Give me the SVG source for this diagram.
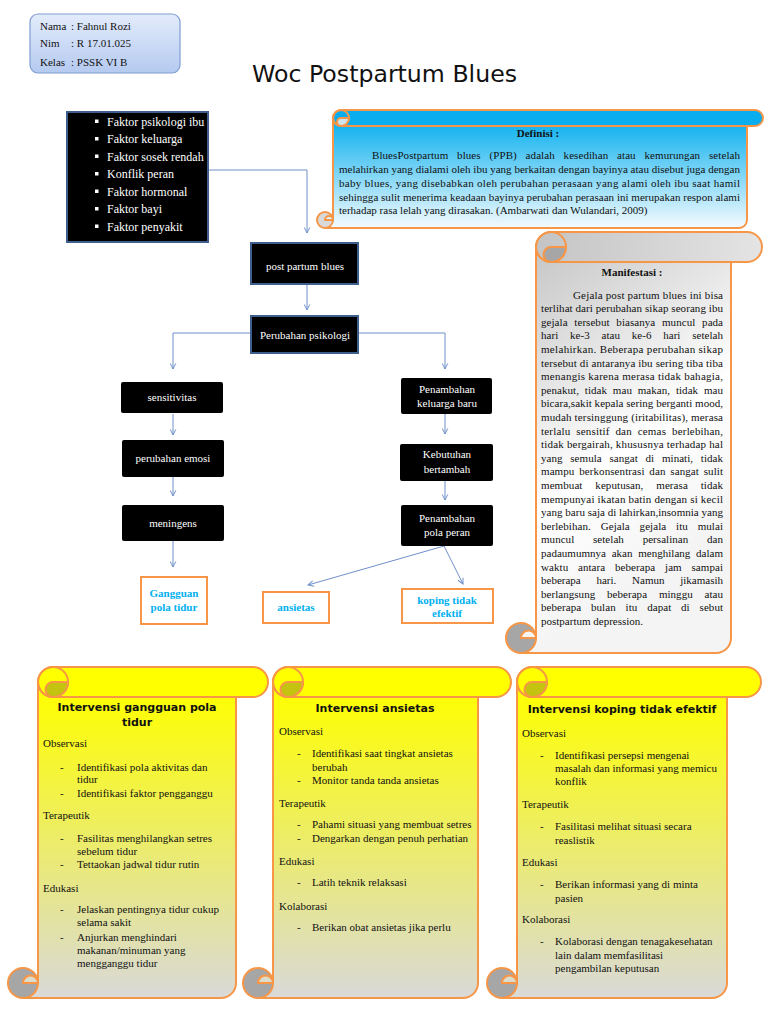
<svg xmlns="http://www.w3.org/2000/svg" width="768" height="1024" viewBox="0 0 768 1024">
<defs>
<linearGradient id="gName" x1="0" y1="0" x2="0" y2="1"><stop offset="0" stop-color="#e3ecfb"/><stop offset="1" stop-color="#b5caf0"/></linearGradient>
<linearGradient id="gDef" gradientUnits="userSpaceOnUse" x1="0" y1="118" x2="0" y2="228"><stop offset="0" stop-color="#05aeee"/><stop offset="1" stop-color="#f4fbfe"/></linearGradient>
<linearGradient id="gMan" gradientUnits="userSpaceOnUse" x1="536" y1="247" x2="731" y2="520"><stop offset="0" stop-color="#c6c6c6"/><stop offset="0.65" stop-color="#ffffff"/><stop offset="1" stop-color="#f4f4f4"/></linearGradient>
<linearGradient id="gManBand" x1="0" y1="0" x2="1" y2="0"><stop offset="0" stop-color="#c4c4c4"/><stop offset="1" stop-color="#e4e4e4"/></linearGradient>
<linearGradient id="gYel" gradientUnits="userSpaceOnUse" x1="0" y1="682" x2="0" y2="998"><stop offset="0" stop-color="#ffff00"/><stop offset="0.12" stop-color="#fbfb14"/><stop offset="1" stop-color="#d9d9d9"/></linearGradient>
<marker id="ah" viewBox="0 0 10 10" refX="9" refY="5" markerWidth="7" markerHeight="7" markerUnits="userSpaceOnUse" orient="auto"><path d="M1,1 L9,5 L1,9" fill="none" stroke="#6f8fc8" stroke-width="1.4"/></marker>
<style>
.sc{stroke:#f79646;stroke-width:2}
.curl{fill:#a6a6a6}
.t{font-family:"Liberation Serif","Times New Roman",serif;font-size:11px;fill:#111}
.f12{font-size:12px}
.tw{fill:#fff}
.bold{font-weight:bold}
.blue{fill:#00b0f0;font-weight:bold}
.c{text-anchor:middle}
.h{font-family:"DejaVu Sans",Verdana,sans-serif;font-size:11px;font-weight:bold;fill:#111;text-anchor:middle}
.node{fill:#000}
.nb{stroke:#3e5f8e;stroke-width:2}
.ob{fill:#fff;stroke:#f79646;stroke-width:2}
.cn{fill:none;stroke:#6f8fc8;stroke-width:1;marker-end:url(#ah)}
</style>
</defs>
<rect width="768" height="1024" fill="#fff"/>

<g id="identity">
<rect x="30" y="14" width="150" height="59" rx="8" fill="url(#gName)" stroke="#7f9dd2" stroke-width="1.2"/>
<text class="t" x="40" y="30">Nama<tspan x="71">: Fahnul Rozi</tspan></text>
<text class="t" x="40" y="47">Nim<tspan x="71">: R 17.01.025</tspan></text>
<text class="t" x="40" y="66">Kelas<tspan x="71">: PSSK  VI B</tspan></text>
</g>

<text id="title" x="252" y="82" font-family="DejaVu Sans, Verdana, sans-serif" font-size="23" fill="#111" textLength="265" lengthAdjust="spacingAndGlyphs">Woc Postpartum Blues</text>

<g id="connectors">
<path class="cn" d="M208,170 H307 V233"/>
<path class="cn" d="M307,284 V310"/>
<path class="cn" d="M251,333 H173 V369"/>
<path class="cn" d="M358,333 H445 V369"/>
<path class="cn" d="M173,414 V435"/>
<path class="cn" d="M173,477 V496"/>
<path class="cn" d="M173,541 V567"/>
<path class="cn" d="M445,414 V434"/>
<path class="cn" d="M445,481 V500"/>
<path class="cn" d="M444,546 L308,585"/>
<path class="cn" d="M444,546 L463,584"/>
</g>

<g id="faktor">
<rect class="node nb" x="67" y="112" width="141" height="130"/>
<g fill="#fff">
<rect x="95" y="119.5" width="3.5" height="3.5"/>
<rect x="95" y="137" width="3.5" height="3.5"/>
<rect x="95" y="154.5" width="3.5" height="3.5"/>
<rect x="95" y="172" width="3.5" height="3.5"/>
<rect x="95" y="189.5" width="3.5" height="3.5"/>
<rect x="95" y="207" width="3.5" height="3.5"/>
<rect x="95" y="224.5" width="3.5" height="3.5"/>
</g>
<text class="t tw f12" x="107" y="125.5">Faktor psikologi ibu</text>
<text class="t tw f12" x="107" y="143">Faktor keluarga</text>
<text class="t tw f12" x="107" y="160.5">Faktor sosek rendah</text>
<text class="t tw f12" x="107" y="178">Konflik peran</text>
<text class="t tw f12" x="107" y="195.5">Faktor hormonal</text>
<text class="t tw f12" x="107" y="213">Faktor bayi</text>
<text class="t tw f12" x="107" y="230.5">Faktor penyakit</text>
</g>

<g id="postpartum">
<rect class="node nb" x="251" y="243" width="107" height="41"/>
<text class="t tw c" x="305" y="270">post  partum blues</text>
</g>
<g id="perubahan-psikologi">
<rect class="node nb" x="251" y="316" width="107" height="37"/>
<text class="t tw c" x="305" y="339">Perubahan psikologi</text>
</g>
<g id="sensitivitas">
<rect class="node" x="121" y="382" width="102" height="31" rx="2"/>
<text class="t tw c" x="172" y="401">sensitivitas</text>
</g>
<g id="perubahan-emosi">
<rect class="node" x="122" y="440" width="102" height="37" rx="2"/>
<text class="t tw c" x="173" y="462">perubahan emosi</text>
</g>
<g id="meningens">
<rect class="node" x="122" y="505" width="102" height="36" rx="2"/>
<text class="t tw c" x="173" y="526.5">meningens</text>
</g>
<g id="penambahan-keluarga">
<rect class="node" x="401" y="378" width="91" height="36" rx="2"/>
<text class="t tw c" x="447" y="393">Penambahan</text>
<text class="t tw c" x="447" y="407">keluarga baru</text>
</g>
<g id="kebutuhan">
<rect class="node" x="400" y="444" width="93" height="37" rx="2"/>
<text class="t tw c" x="447" y="458">Kebutuhan</text>
<text class="t tw c" x="447" y="473">bertambah</text>
</g>
<g id="penambahan-peran">
<rect class="node" x="401" y="505" width="92" height="41" rx="2"/>
<text class="t tw c" x="447" y="522">Penambahan</text>
<text class="t tw c" x="447" y="535.5">pola peran</text>
</g>
<g id="gangguan">
<rect class="ob" x="141" y="577" width="66" height="47"/>
<text class="t blue c" x="174" y="597">Gangguan</text>
<text class="t blue c" x="174" y="610.5">pola tidur</text>
</g>
<g id="ansietas">
<rect class="ob" x="263" y="592" width="66" height="31"/>
<text class="t blue c" x="296" y="610.5">ansietas</text>
</g>
<g id="koping">
<rect class="ob" x="402" y="589" width="91" height="34"/>
<text class="t blue c" x="447" y="604">koping tidak</text>
<text class="t blue c" x="447" y="616.5">efektif</text>
</g>

<g id="definisi">
<path class="sc" fill="url(#gDef)" d="M333,118 H747 V220 A8 8 0 0 1 739,228 H325 V220 H333 Z"/>
<circle class="sc" cx="325" cy="220" r="8" fill="#d9d9d9"/>
<path class="sc" fill="url(#gDef)" d="M333,220 A4 4 0 0 0 325,220 Z"/>
<rect class="sc" x="333" y="110" width="430" height="16" rx="8" fill="#0aaeee"/>
<circle class="sc" cx="341" cy="118" r="8" fill="none"/>
<path class="sc" fill="#cfe3ec" d="M349,118 A8 8 0 0 1 341,126 A4 4 0 0 1 341,118 Z"/>
<text class="t bold c" x="538" y="137">Definisi :</text>
<text class="t" x="372" y="158.5" word-spacing="6" textLength="368" lengthAdjust="spacing">BluesPostpartum blues (PPB) adalah kesedihan atau kemurungan setelah</text>
<text class="t" x="339" y="172.5" textLength="401" lengthAdjust="spacing">melahirkan yang dialami oleh ibu yang berkaitan dengan bayinya atau disebut juga dengan</text>
<text class="t" x="339" y="186.5" textLength="401" lengthAdjust="spacing">baby blues, yang disebabkan oleh perubahan perasaan yang alami oleh ibu saat hamil</text>
<text class="t" x="339" y="200.5" textLength="401" lengthAdjust="spacing">sehingga sulit menerima keadaan bayinya perubahan perasaan ini merupakan respon alami</text>
<text class="t" x="339" y="214">terhadap rasa lelah yang dirasakan. (Ambarwati dan Wulandari, 2009)</text>
</g>

<g id="manifestasi">
<path class="sc" fill="url(#gMan)" d="M536,247 H731 V638 A15 15 0 0 1 716,653 H521 V638 H536 Z"/>
<circle class="sc curl" cx="521" cy="638" r="15"/>
<path class="sc" fill="url(#gMan)" d="M536,638 A7.5 7.5 0 0 0 521,638 Z"/>
<rect class="sc" x="536" y="232" width="226" height="30" rx="15" fill="url(#gManBand)"/>
<circle class="sc" cx="551" cy="247" r="15" fill="none"/>
<path class="sc curl" d="M566,247 A15 15 0 0 1 551,262 A7.5 7.5 0 0 1 551,247 Z"/>
<text class="t bold c" x="632" y="275.5">Manifestasi :</text>
<text class="t" x="573" y="298.5" textLength="150" lengthAdjust="spacing">Gejala post partum blues ini bisa</text>
<text class="t" x="541" y="312.1" textLength="182" lengthAdjust="spacing">terlihat dari perubahan sikap seorang ibu</text>
<text class="t" x="541" y="325.7" word-spacing="4" textLength="182" lengthAdjust="spacing">gejala tersebut biasanya muncul pada</text>
<text class="t" x="541" y="339.3" word-spacing="9" textLength="182" lengthAdjust="spacing">hari ke-3 atau ke-6 hari setelah</text>
<text class="t" x="541" y="352.9" textLength="182" lengthAdjust="spacing">melahirkan. Beberapa perubahan sikap</text>
<text class="t" x="541" y="366.5" textLength="182" lengthAdjust="spacing">tersebut di antaranya ibu sering tiba tiba</text>
<text class="t" x="541" y="380.1" textLength="182" lengthAdjust="spacing">menangis karena merasa tidak bahagia,</text>
<text class="t" x="541" y="393.7" word-spacing="3" textLength="182" lengthAdjust="spacing">penakut,  tidak mau makan, tidak mau</text>
<text class="t" x="541" y="407.3" textLength="182" lengthAdjust="spacing">bicara,sakit kepala sering berganti mood,</text>
<text class="t" x="541" y="420.9" textLength="182" lengthAdjust="spacing">mudah tersinggung (iritabilitas), merasa</text>
<text class="t" x="541" y="434.5" word-spacing="3" textLength="182" lengthAdjust="spacing">terlalu sensitif dan cemas berlebihan,</text>
<text class="t" x="541" y="448.1" textLength="182" lengthAdjust="spacing">tidak bergairah, khususnya terhadap hal</text>
<text class="t" x="541" y="461.7" word-spacing="5" textLength="182" lengthAdjust="spacing">yang semula sangat di minati, tidak</text>
<text class="t" x="541" y="475.3" word-spacing="2" textLength="182" lengthAdjust="spacing">mampu berkonsentrasi dan sangat sulit</text>
<text class="t" x="541" y="488.9" word-spacing="10" textLength="182" lengthAdjust="spacing">membuat keputusan, merasa tidak</text>
<text class="t" x="541" y="502.5" textLength="182" lengthAdjust="spacing">mempunyai ikatan batin dengan si kecil</text>
<text class="t" x="541" y="516.1" textLength="182" lengthAdjust="spacing">yang baru saja di lahirkan,insomnia yang</text>
<text class="t" x="541" y="529.7" word-spacing="7" textLength="182" lengthAdjust="spacing">berlebihan. Gejala gejala itu mulai</text>
<text class="t" x="541" y="543.3" word-spacing="16" textLength="182" lengthAdjust="spacing">muncul setelah persalinan dan</text>
<text class="t" x="541" y="556.9" word-spacing="3" textLength="182" lengthAdjust="spacing">padaumumnya akan menghilang dalam</text>
<text class="t" x="541" y="570.5" word-spacing="7" textLength="182" lengthAdjust="spacing">waktu antara beberapa jam sampai</text>
<text class="t" x="541" y="584.1" word-spacing="13" textLength="182" lengthAdjust="spacing">beberapa hari. Namun jikamasih</text>
<text class="t" x="541" y="597.7" word-spacing="9" textLength="182" lengthAdjust="spacing">berlangsung beberapa minggu atau</text>
<text class="t" x="541" y="611.3" word-spacing="7" textLength="182" lengthAdjust="spacing">beberapa bulan itu dapat di sebut</text>
<text class="t" x="541" y="624.9">postpartum depression.</text>
</g>

<g id="intervensi-gangguan">
<path class="sc" fill="url(#gYel)" d="M38,682 H236 V983 A15 15 0 0 1 221,998 H23 V983 H38 Z"/>
<circle class="sc curl" cx="23" cy="983" r="15"/>
<path class="sc" fill="url(#gYel)" d="M38,983 A7.5 7.5 0 0 0 23,983 Z"/>
<rect class="sc" x="38" y="667" width="230" height="30" rx="15" fill="#ffff00"/>
<circle class="sc" cx="53" cy="682" r="15" fill="none"/>
<path class="sc" fill="#c4c410" d="M68,682 A15 15 0 0 1 53,697 A7.5 7.5 0 0 1 53,682 Z"/>
<text class="h" x="137" y="711">Intervensi gangguan pola</text>
<text class="h" x="137" y="725.5">tidur</text>
<text class="t" x="43" y="746.5">Observasi</text>
<text class="t" x="60" y="770.5">-</text><text class="t" x="77" y="770.5">Identifikasi pola aktivitas dan</text>
<text class="t" x="77" y="782.5">tidur</text>
<text class="t" x="60" y="796.5">-</text><text class="t" x="77" y="796.5">Identifikasi faktor pengganggu</text>
<text class="t" x="43" y="818.5">Terapeutik</text>
<text class="t" x="60" y="841.5">-</text><text class="t" x="77" y="841.5">Fasilitas menghilangkan setres</text>
<text class="t" x="77" y="854.5">sebelum tidur</text>
<text class="t" x="60" y="867.5">-</text><text class="t" x="77" y="867.5">Tettaokan  jadwal tidur rutin</text>
<text class="t" x="43" y="891.5">Edukasi</text>
<text class="t" x="60" y="912.5">-</text><text class="t" x="77" y="912.5">Jelaskan pentingnya tidur cukup</text>
<text class="t" x="77" y="925.5">selama sakit</text>
<text class="t" x="60" y="940.5">-</text><text class="t" x="77" y="940.5">Anjurkan menghindari</text>
<text class="t" x="77" y="953.5">makanan/minuman yang</text>
<text class="t" x="77" y="966.5">mengganggu tidur</text>
</g>

<g id="intervensi-ansietas">
<path class="sc" fill="url(#gYel)" d="M273,682 H478 V983 A15 15 0 0 1 463,998 H258 V983 H273 Z"/>
<circle class="sc curl" cx="258" cy="983" r="15"/>
<path class="sc" fill="url(#gYel)" d="M273,983 A7.5 7.5 0 0 0 258,983 Z"/>
<rect class="sc" x="273" y="667" width="238" height="30" rx="15" fill="#ffff00"/>
<circle class="sc" cx="288" cy="682" r="15" fill="none"/>
<path class="sc" fill="#c4c410" d="M303,682 A15 15 0 0 1 288,697 A7.5 7.5 0 0 1 288,682 Z"/>
<text class="h" x="375" y="712">Intervensi ansietas</text>
<text class="t" x="279" y="734.5">Observasi</text>
<text class="t" x="297" y="756.5">-</text><text class="t" x="312" y="756.5">Identifikasi saat tingkat ansietas</text>
<text class="t" x="312" y="770.5">berubah</text>
<text class="t" x="297" y="783.5">-</text><text class="t" x="312" y="783.5">Monitor tanda tanda ansietas</text>
<text class="t" x="279" y="806.5">Terapeutik</text>
<text class="t" x="297" y="827.5">-</text><text class="t" x="312" y="827.5">Pahami situasi yang membuat setres</text>
<text class="t" x="297" y="841.5">-</text><text class="t" x="312" y="841.5">Dengarkan  dengan penuh perhatian</text>
<text class="t" x="279" y="864.5">Edukasi</text>
<text class="t" x="297" y="885.5">-</text><text class="t" x="312" y="885.5">Latih teknik relaksasi</text>
<text class="t" x="279" y="909.5">Kolaborasi</text>
<text class="t" x="297" y="930.5">-</text><text class="t" x="312" y="930.5">Berikan obat ansietas jika perlu</text>
</g>

<g id="intervensi-koping">
<path class="sc" fill="url(#gYel)" d="M517,682 H727 V983 A15 15 0 0 1 712,998 H502 V983 H517 Z"/>
<circle class="sc curl" cx="502" cy="983" r="15"/>
<path class="sc" fill="url(#gYel)" d="M517,983 A7.5 7.5 0 0 0 502,983 Z"/>
<rect class="sc" x="517" y="667" width="244" height="30" rx="15" fill="#ffff00"/>
<circle class="sc" cx="532" cy="682" r="15" fill="none"/>
<path class="sc" fill="#c4c410" d="M547,682 A15 15 0 0 1 532,697 A7.5 7.5 0 0 1 532,682 Z"/>
<text class="h" x="622" y="713">Intervensi koping tidak efektif</text>
<text class="t" x="522" y="736.5">Observasi</text>
<text class="t" x="540" y="758.5">-</text><text class="t" x="555" y="758.5">Identifikasi persepsi mengenai</text>
<text class="t" x="555" y="771.5">masalah dan informasi yang memicu</text>
<text class="t" x="555" y="784.5">konflik</text>
<text class="t" x="522" y="808">Terapeutik</text>
<text class="t" x="540" y="830">-</text><text class="t" x="555" y="830">Fasilitasi melihat situasi secara</text>
<text class="t" x="555" y="843.5">reaslistik</text>
<text class="t" x="522" y="866">Edukasi</text>
<text class="t" x="540" y="887.5">-</text><text class="t" x="555" y="887.5">Berikan informasi yang di minta</text>
<text class="t" x="555" y="902">pasien</text>
<text class="t" x="522" y="923">Kolaborasi</text>
<text class="t" x="540" y="945">-</text><text class="t" x="555" y="945">Kolaborasi dengan tenagakesehatan</text>
<text class="t" x="555" y="958.5">lain dalam memfasilitasi</text>
<text class="t" x="555" y="972">pengambilan keputusan</text>
</g>
</svg>
